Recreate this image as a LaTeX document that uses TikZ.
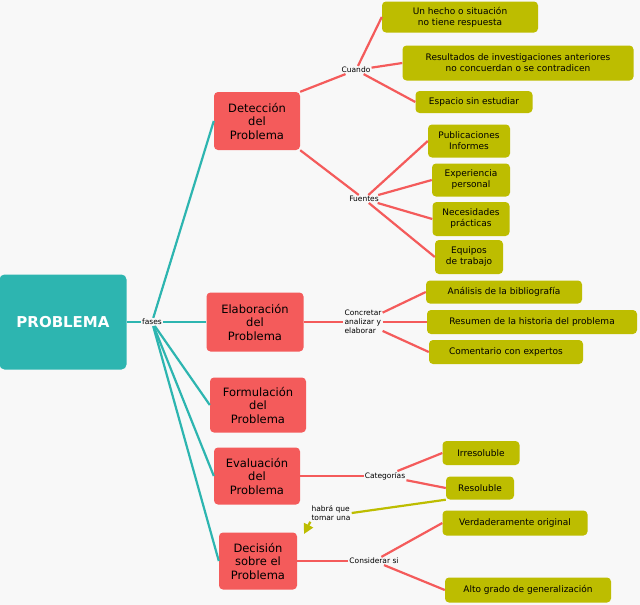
\documentclass[tikz,border=0pt]{standalone}
\usepackage{fontspec}
\setmainfont{DejaVu Sans}
\usetikzlibrary{arrows.meta}
\definecolor{teal1}{HTML}{2DB5B0}
\definecolor{red1}{HTML}{F45B5B}
\definecolor{olive1}{HTML}{BDBD00}
\definecolor{bg}{HTML}{F8F8F8}
\begin{document}
\begin{tikzpicture}[x=1pt,y=-1pt,
 redbox/.style={fill=red1,rounded corners=4pt,align=center,font=\fontsize{11.5}{13.5}\selectfont,inner sep=0pt},
 obox/.style={fill=olive1,rounded corners=4pt,align=center,font=\fontsize{9}{11}\selectfont,inner sep=0pt},
 lab/.style={font=\fontsize{7.5}{9}\selectfont,fill=bg,inner sep=1pt,align=left},
 tl/.style={draw=teal1,line width=2.2pt},
 rl/.style={draw=red1,line width=2.2pt},
 ol/.style={draw=olive1,line width=2.2pt}]
\fill[bg] (0,0) rectangle (640,605);
\useasboundingbox (0,0) rectangle (640,605);
\node[fill=teal1,rounded corners=5pt,minimum width=127pt,minimum height=95pt,text=white,font=\bfseries\fontsize{15}{18}\selectfont] (P) at (63,322) {PROBLEMA};
\node[lab] (fases) at (152,322) {fases};
\node[redbox,minimum width=86pt,minimum height=58pt] (D) at (257,121) {Detección\\del\\Problema};
\node[redbox,minimum width=97pt,minimum height=59pt] (E) at (255,322) {Elaboración\\del\\Problema};
\node[redbox,minimum width=96pt,minimum height=55pt] (F) at (258,405) {Formulación\\del\\Problema};
\node[redbox,minimum width=86pt,minimum height=57pt] (V) at (257,476) {Evaluación\\del\\Problema};
\node[redbox,minimum width=78pt,minimum height=57pt] (S) at (258,561) {Decisión\\sobre el\\Problema};
\draw[tl] (P.east) -- (fases.west);
\foreach \n in {D,E,F,V,S} \draw[tl] (fases) -- (\n.west);
% Cuando
\node[lab] (cu) at (356,70) {Cuando};
\node[obox,minimum width=156pt,minimum height=31pt] (c1) at (460,17) {Un hecho o situación\\no tiene respuesta};
\node[obox,minimum width=231pt,minimum height=35pt] (c2) at (518,63) {Resultados de investigaciones anteriores\\no concuerdan o se contradicen};
\node[obox,minimum width=117pt,minimum height=22pt] (c3) at (474,102) {Espacio sin estudiar};
\draw[rl] (D.north east) -- (cu);
\foreach \n in {c1,c2,c3} \draw[rl] (cu) -- (\n.west);
% Fuentes
\node[lab] (fu) at (364,199) {Fuentes};
\node[obox,minimum width=82pt,minimum height=33pt] (f1) at (469,141) {Publicaciones\\Informes};
\node[obox,minimum width=78pt,minimum height=33pt] (f2) at (471,180) {Experiencia\\personal};
\node[obox,minimum width=77pt,minimum height=34pt] (f3) at (471,219) {Necesidades\\prácticas};
\node[obox,minimum width=68pt,minimum height=34pt] (f4) at (469,257) {Equipos\\de trabajo};
\draw[rl] (D.south east) -- (fu);
\foreach \n in {f1,f2,f3,f4} \draw[rl] (fu) -- (\n.west);
% Concretar
\node[lab] (co) at (363,322) {Concretar\\analizar y\\elaborar};
\node[obox,minimum width=156pt,minimum height=23pt] (e1) at (504,292) {Análisis de la bibliografía};
\node[obox,minimum width=210pt,minimum height=24pt] (e2) at (532,322) {Resumen de la historia del problema};
\node[obox,minimum width=154pt,minimum height=24pt] (e3) at (506,352) {Comentario con expertos};
\draw[rl] (E.east) -- (co);
\foreach \n in {e1,e2,e3} \draw[rl] (co) -- (\n.west);
% Categorias
\node[lab] (ca) at (385,476) {Categorías};
\node[obox,minimum width=77pt,minimum height=24pt] (v1) at (481,453) {Irresoluble};
\node[obox,minimum width=68pt,minimum height=23pt] (v2) at (480,488) {Resoluble};
\draw[rl] (V.east) -- (ca);
\foreach \n in {v1,v2} \draw[rl] (ca) -- (\n.west);
\node[lab] (hq) at (331,513) {habrá que\\tomar una};
\coordinate (tip) at (304,534);
\draw[ol] (v2.south west) -- (hq.east);
\draw[ol,-{Triangle[length=10pt,width=10pt]}] (hq.south west) -- (tip);
% Considerar
\node[lab] (cs) at (374,561) {Considerar si};
\node[obox,minimum width=145pt,minimum height=25pt] (s1) at (515,523) {Verdaderamente original};
\node[obox,minimum width=166pt,minimum height=25pt] (s2) at (528,590) {Alto grado de generalización};
\draw[rl] (S.east) -- (cs);
\foreach \n in {s1,s2} \draw[rl] (cs) -- (\n.west);
\end{tikzpicture}
\end{document}
